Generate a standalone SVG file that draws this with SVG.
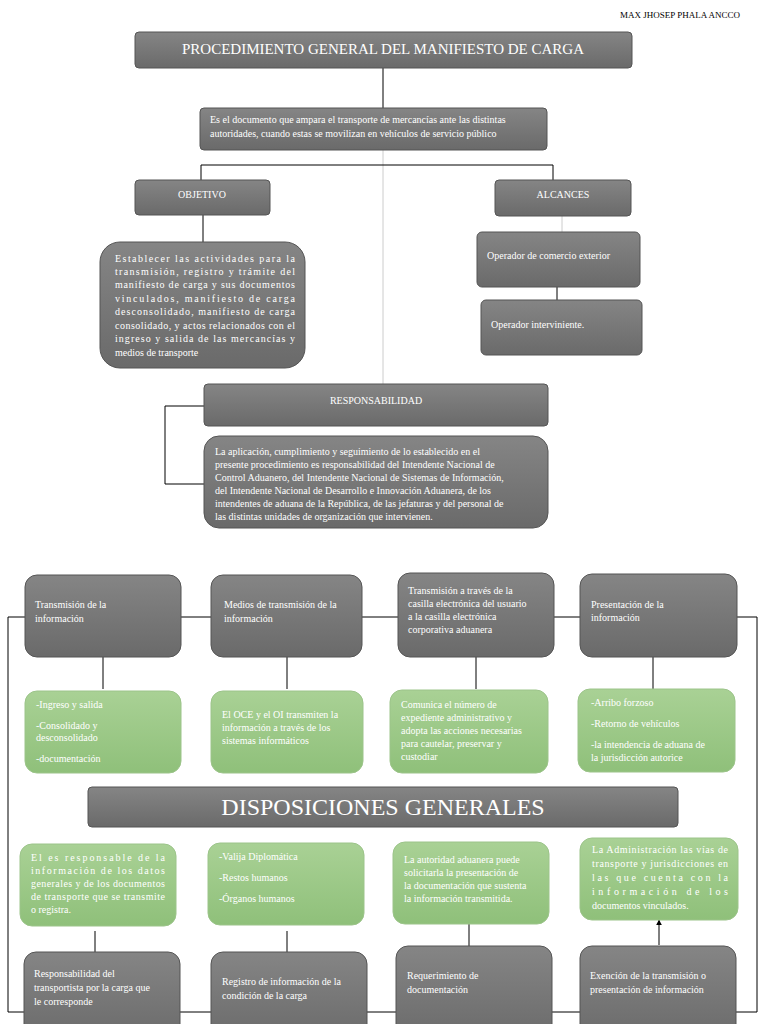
<svg xmlns="http://www.w3.org/2000/svg" width="768" height="1024" viewBox="0 0 768 1024">
<defs>
<linearGradient id="gg" x1="0" y1="0" x2="0" y2="1"><stop offset="0" stop-color="#858585"/><stop offset="1" stop-color="#6a6a6a"/></linearGradient>
<linearGradient id="gr" x1="0" y1="0" x2="0" y2="1"><stop offset="0" stop-color="#a9d195"/><stop offset="1" stop-color="#8fc07a"/></linearGradient>
<marker id="ah" viewBox="0 0 10 10" refX="9" refY="5" markerWidth="6" markerHeight="6" orient="auto"><path d="M0,0L10,5L0,10z" fill="#000"/></marker>
</defs>
<style>
.g{fill:url(#gg);stroke:#555;stroke-width:1}
.n{fill:url(#gr);stroke:#9cc48a;stroke-width:1}
text{font-family:"Liberation Serif",serif;fill:#fff;font-size:10px}
.c{stroke:#000;stroke-width:1;fill:none}
.l{stroke:#ccc;stroke-width:1;fill:none}
</style>
<rect width="768" height="1024" fill="#fff"/>
<text x="740" y="18" text-anchor="end" style="fill:#000;font-size:9px">MAX JHOSEP PHALA ANCCO</text>
<g id="connectors">
<path class="l" d="M383,150V384"/>
<path class="c" d="M383,68V108M201,180V165H553V180M203,215V242M557,287V300M204,406H165V484H204"/>
<path class="l" d="M562,216V232"/>
<path class="c" d="M25,617H8V1012H24M181,617H211M362,617H398M554,617H580M737,617H757V1012H736M180,1012H211M367,1012H396M552,1012H580"/>
<path class="c" marker-end="url(#ah)" d="M103,657V689M287,657V689M476,657V689M653,657V689M95,952V931M287,952V931M469,952V922M659,945V920"/>
</g>
<g id="title"><rect class="g" x="135" y="32" width="497" height="36" rx="4"/><text x="383" y="54" text-anchor="middle" style="font-size:15px">PROCEDIMIENTO GENERAL  DEL MANIFIESTO DE CARGA</text></g>
<g id="desc"><rect class="g" x="200" y="108" width="347" height="42" rx="4"/><text x="210" y="123">Es el documento que ampara el transporte de mercancías ante las distintas</text><text x="210" y="137">autoridades, cuando estas se movilizan en vehículos de servicio público</text></g>
<g id="objetivo"><rect class="g" x="135" y="180" width="135" height="35" rx="4"/><text x="202" y="198" text-anchor="middle">OBJETIVO</text></g>
<g id="alcances"><rect class="g" x="495" y="180" width="136" height="36" rx="4"/><text x="563" y="198" text-anchor="middle">ALCANCES</text></g>
<g id="objtext"><rect class="g" x="100" y="242" width="205" height="126" rx="20"/>
<text x="115" y="262" textLength="180" lengthAdjust="spacing">Establecer las actividades para la</text>
<text x="115" y="275" textLength="180" lengthAdjust="spacing">transmisión, registro y trámite del</text>
<text x="115" y="288" textLength="180" lengthAdjust="spacing">manifiesto de carga y sus documentos</text>
<text x="115" y="302" textLength="180" lengthAdjust="spacing">vinculados, manifiesto de carga</text>
<text x="115" y="315" textLength="180" lengthAdjust="spacing">desconsolidado, manifiesto de carga</text>
<text x="115" y="329" textLength="180" lengthAdjust="spacing">consolidado, y actos relacionados con el</text>
<text x="115" y="342" textLength="180" lengthAdjust="spacing">ingreso y salida de las mercancías y</text>
<text x="115" y="356">medios de transporte</text></g>
<g id="op1"><rect class="g" x="477" y="232" width="163" height="55" rx="5"/><text x="487" y="259">Operador de comercio exterior</text></g>
<g id="op2"><rect class="g" x="481" y="300" width="161" height="55" rx="5"/><text x="491" y="328">Operador interviniente.</text></g>
<g id="resp"><rect class="g" x="204" y="384" width="344" height="42" rx="4"/><text x="376" y="404" text-anchor="middle">RESPONSABILIDAD</text></g>
<g id="resptext"><rect class="g" x="204" y="436" width="344" height="92" rx="15"/>
<text x="215" y="455">La aplicación, cumplimiento y seguimiento de lo establecido en el</text>
<text x="215" y="468">presente procedimiento es responsabilidad del Intendente Nacional de</text>
<text x="215" y="481">Control Aduanero, del Intendente Nacional de Sistemas de Información,</text>
<text x="215" y="494">del Intendente Nacional de Desarrollo e Innovación Aduanera, de los</text>
<text x="215" y="507">intendentes de aduana de la República, de las jefaturas y del personal de</text>
<text x="215" y="520">las distintas unidades de organización que intervienen.</text></g>
<g id="r1a"><rect class="g" x="25" y="575" width="156" height="82" rx="12"/><text x="35" y="608">Transmisión de la</text><text x="35" y="622">información</text></g>
<g id="r1b"><rect class="g" x="211" y="575" width="151" height="82" rx="12"/><text x="224" y="608">Medios de transmisión de la</text><text x="224" y="622">información</text></g>
<g id="r1c"><rect class="g" x="398" y="573" width="156" height="84" rx="12"/><text x="408" y="594">Transmisión a través de la</text><text x="408" y="607">casilla electrónica del usuario</text><text x="408" y="620">a la casilla electrónica</text><text x="408" y="633">corporativa aduanera</text></g>
<g id="r1d"><rect class="g" x="580" y="574" width="157" height="83" rx="12"/><text x="591" y="608">Presentación de la</text><text x="591" y="621">información</text></g>
<g id="g1a"><rect class="n" x="25" y="691" width="156" height="82" rx="12"/><text x="36" y="708">-Ingreso y salida</text><text x="36" y="729">-Consolidado  y</text><text x="36" y="741">desconsolidado</text><text x="36" y="762">-documentación</text></g>
<g id="g1b"><rect class="n" x="211" y="691" width="152" height="82" rx="12"/><text x="222" y="718">El OCE y el OI transmiten la</text><text x="222" y="731">información a través de los</text><text x="222" y="744">sistemas informáticos</text></g>
<g id="g1c"><rect class="n" x="390" y="690" width="158" height="83" rx="12"/><text x="401" y="708">Comunica el número de</text><text x="401" y="721">expediente administrativo y</text><text x="401" y="734">adopta las acciones necesarias</text><text x="401" y="747">para cautelar, preservar y</text><text x="401" y="760">custodiar</text></g>
<g id="g1d"><rect class="n" x="578" y="689" width="157" height="83" rx="12"/><text x="591" y="706">-Arribo forzoso</text><text x="591" y="727">-Retorno de vehículos</text><text x="591" y="748">-la intendencia de aduana de</text><text x="591" y="761">la jurisdicción autorice</text></g>
<g id="dispo"><rect class="g" x="88" y="787" width="590" height="40" rx="4"/><text x="383" y="815" text-anchor="middle" style="font-size:24px">DISPOSICIONES GENERALES</text></g>
<g id="g2a"><rect class="n" x="20" y="844" width="156" height="82" rx="12"/>
<text x="31" y="861" textLength="134" lengthAdjust="spacing">El es responsable de la</text>
<text x="31" y="874" textLength="134" lengthAdjust="spacing">información de los datos</text>
<text x="31" y="887" textLength="134" lengthAdjust="spacing">generales y de los documentos</text>
<text x="31" y="900" textLength="134" lengthAdjust="spacing">de transporte que se transmite</text>
<text x="31" y="913">o registra.</text></g>
<g id="g2b"><rect class="n" x="208" y="843" width="156" height="82" rx="12"/><text x="219" y="860">-Valija Diplomática</text><text x="219" y="881">-Restos humanos</text><text x="219" y="902">-Órganos humanos</text></g>
<g id="g2c"><rect class="n" x="393" y="842" width="156" height="82" rx="12"/><text x="404" y="863">La autoridad aduanera puede</text><text x="404" y="876">solicitarla la presentación de</text><text x="404" y="889">la documentación que sustenta</text><text x="404" y="902">la información transmitida.</text></g>
<g id="g2d"><rect class="n" x="580" y="838" width="158" height="82" rx="12"/>
<text x="592" y="853" textLength="136" lengthAdjust="spacing">La Administración las vías de</text>
<text x="592" y="867" textLength="136" lengthAdjust="spacing">transporte y jurisdicciones en</text>
<text x="592" y="881" textLength="136" lengthAdjust="spacing">las que cuenta con la</text>
<text x="592" y="895" textLength="136" lengthAdjust="spacing">información de los</text>
<text x="592" y="909">documentos vinculados.</text></g>
<g id="b1"><rect class="g" x="24" y="952" width="156" height="90" rx="12"/><text x="34" y="977">Responsabilidad del</text><text x="34" y="991">transportista por la carga que</text><text x="34" y="1005">le corresponde</text></g>
<g id="b2"><rect class="g" x="211" y="952" width="156" height="90" rx="12"/><text x="222" y="985">Registro de información de la</text><text x="222" y="999">condición de la carga</text></g>
<g id="b3"><rect class="g" x="396" y="946" width="156" height="96" rx="12"/><text x="407" y="979">Requerimiento de</text><text x="407" y="993">documentación</text></g>
<g id="b4"><rect class="g" x="580" y="946" width="156" height="96" rx="12"/><text x="590" y="979">Exención de la transmisión o</text><text x="590" y="993">presentación de información</text></g>
</svg>
